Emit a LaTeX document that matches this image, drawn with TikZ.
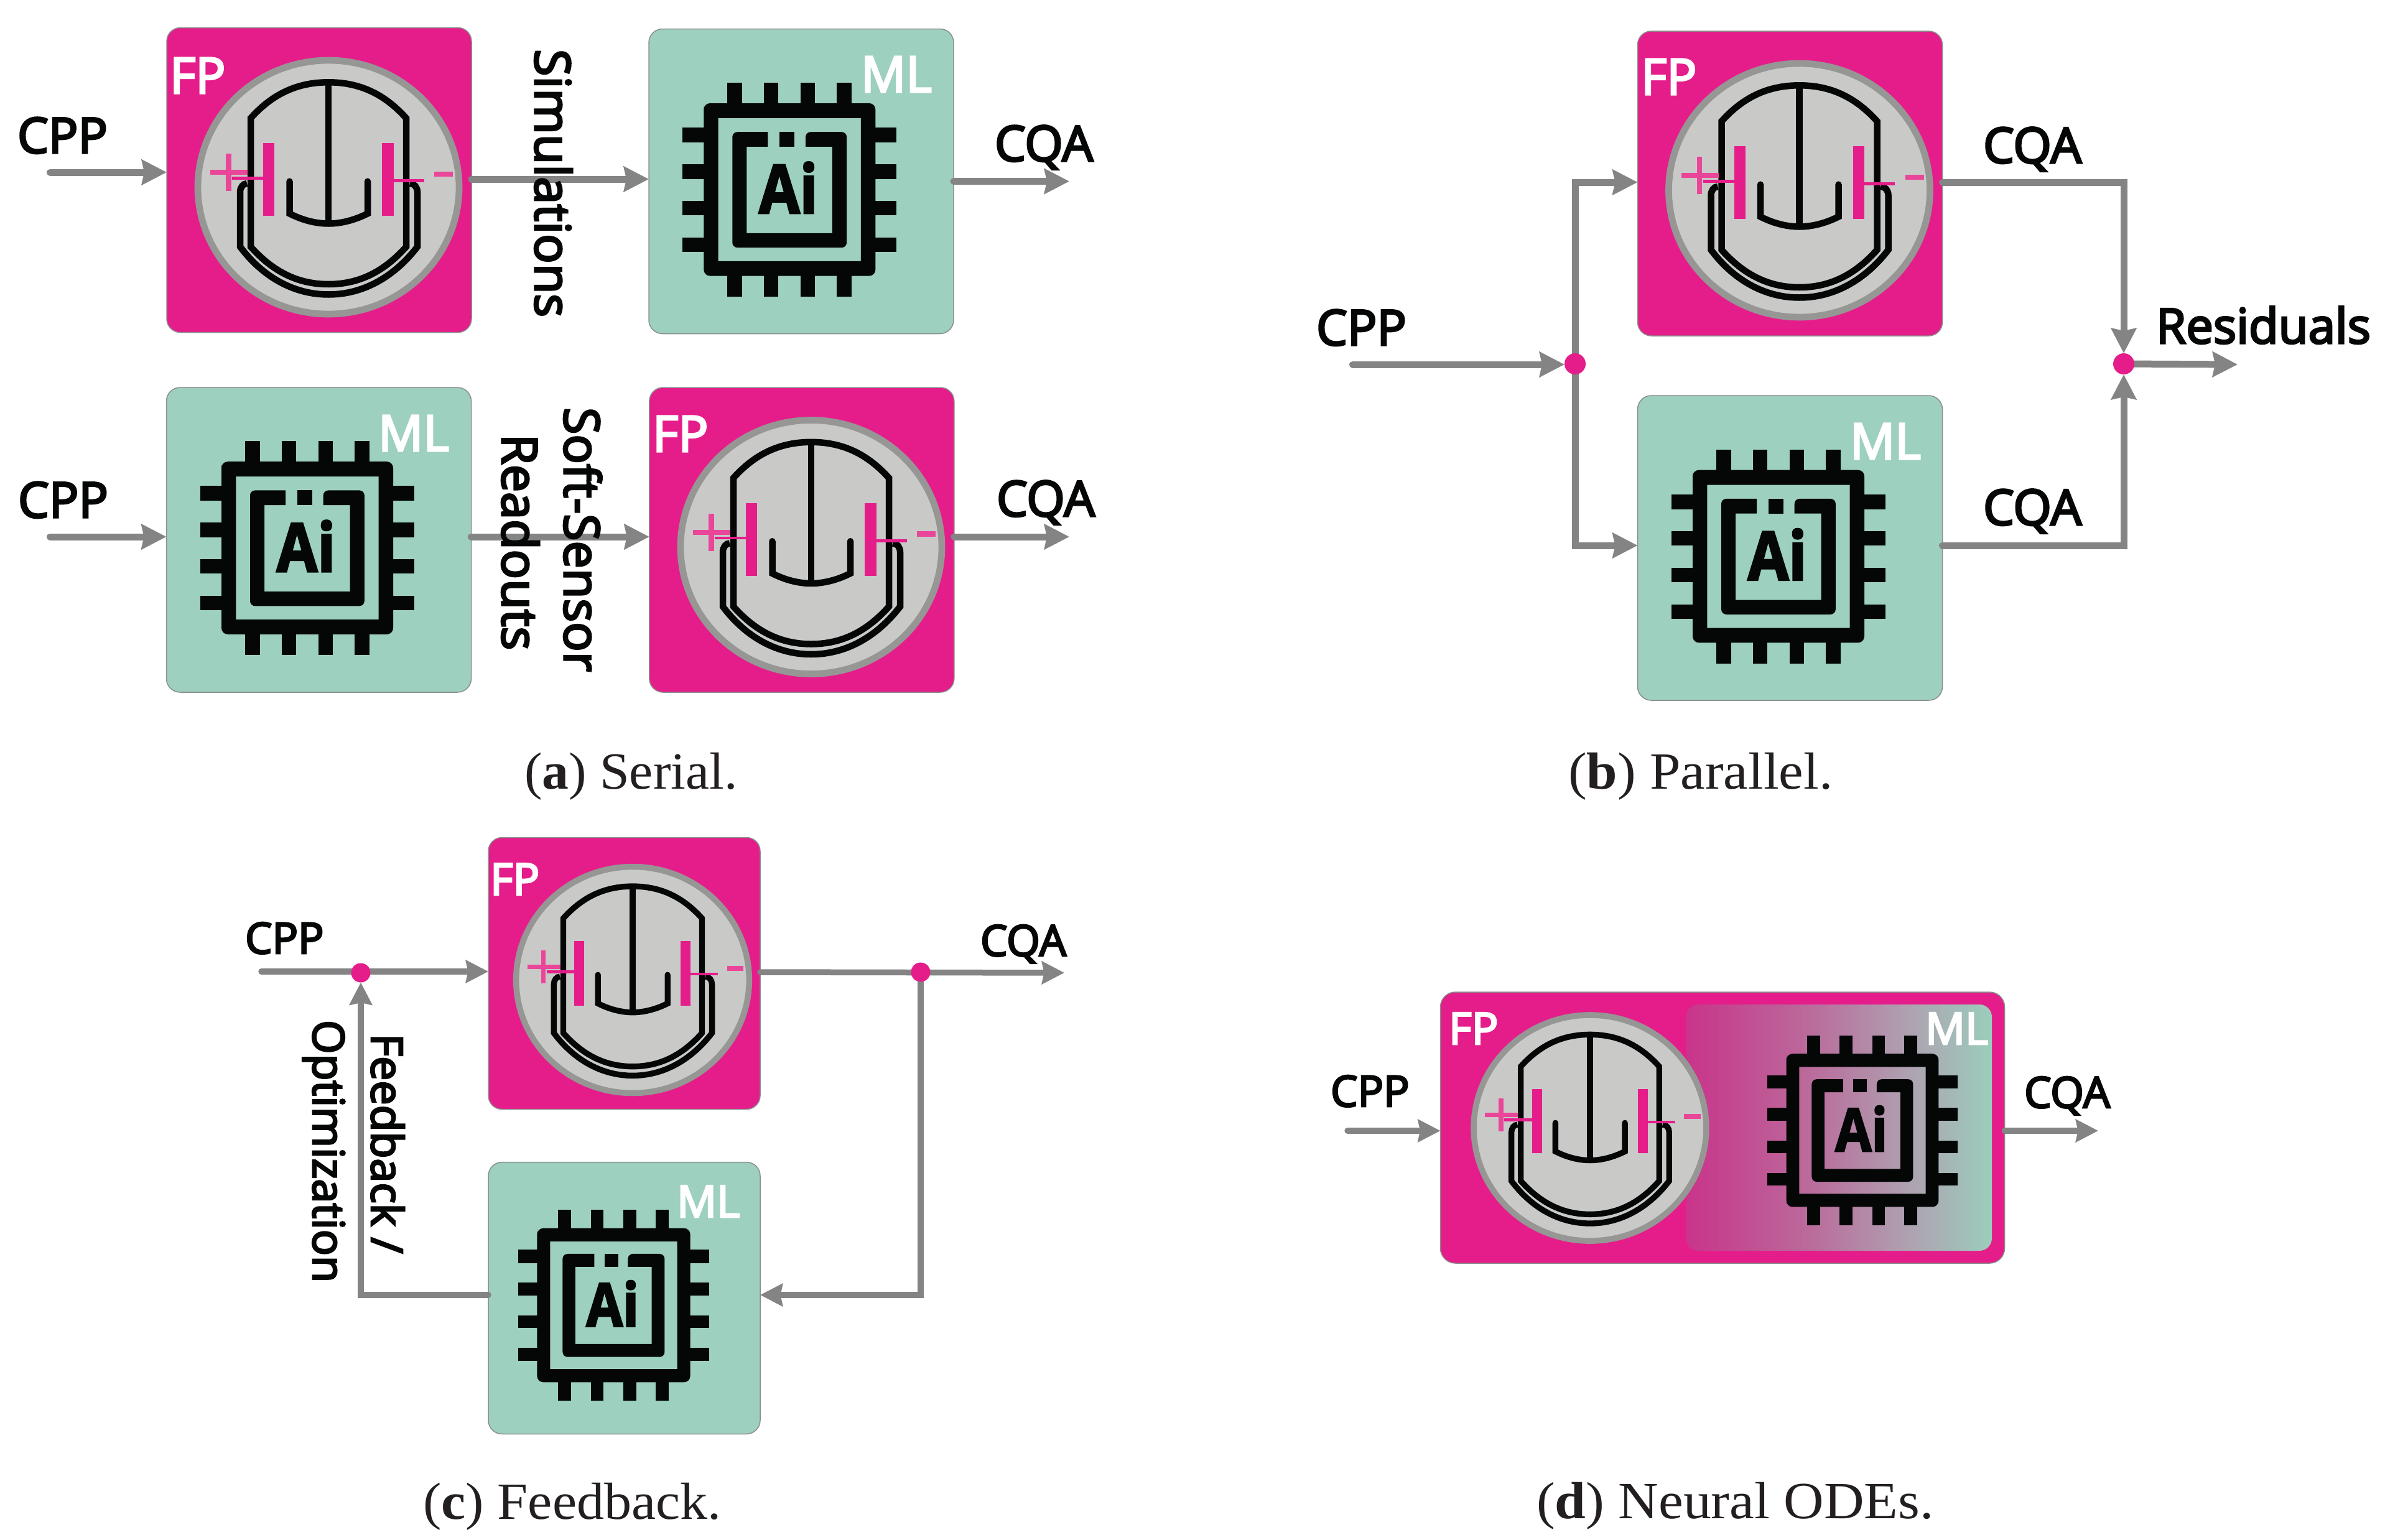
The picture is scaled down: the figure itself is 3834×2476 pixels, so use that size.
\documentclass[tikz,border=0pt]{standalone}
\usepackage{fontspec}
\usetikzlibrary{arrows.meta}
\setmainfont{Liberation Serif}
\newfontfamily\labfont[FakeBold=4]{Open Sans}
\newfontfamily\aifont[UprightFont=* Bold,FakeBold=3]{Open Sans}
\definecolor{fppink}{HTML}{E51D8A}
\definecolor{signpink}{HTML}{EA4699}
\definecolor{mlteal}{HTML}{9DD0BE}
\definecolor{edgegray}{HTML}{8A8F8C}
\definecolor{linegray}{HTML}{848484}
\definecolor{discfill}{HTML}{C9C9C8}
\definecolor{discring}{HTML}{969695}
\definecolor{inkblack}{HTML}{040706}
\definecolor{capink}{HTML}{231F20}
\definecolor{gA}{HTML}{C9348A}
\definecolor{gB}{HTML}{BA6A9B}
\definecolor{gC}{HTML}{AFA0B0}
\definecolor{gD}{HTML}{A2BDB8}
\definecolor{gE}{HTML}{9CCEBB}
\pgfdeclarehorizontalshading{odeshade}{100bp}{color(0bp)=(gA); color(25bp)=(gA); color(45bp)=(gB); color(61bp)=(gC); color(70bp)=(gD); color(75bp)=(gE); color(100bp)=(gE)}
\pgfdeclarelayer{fg}
\pgfsetlayers{main,fg}
\tikzset{
  fpbox/.style={draw=edgegray,line width=1.5pt,fill=fppink,rounded corners=22pt,minimum width=#1,minimum height=#1,inner sep=0pt,outer sep=0pt},
  mlbox/.style={draw=edgegray,line width=1.5pt,fill=mlteal,rounded corners=22pt,minimum width=#1,minimum height=#1,inner sep=0pt,outer sep=0pt},
  lab/.style={anchor=base west,inner sep=0pt,outer sep=0pt,text=inkblack,font={\fontsize{#1pt}{#1pt}\labfont}},
  boxlab/.style={anchor=base west,inner sep=0pt,outer sep=0pt,text=white,font={\fontsize{#1pt}{#1pt}\labfont}},
  vlab/.style={lab=#1,rotate=-90},
  capt/.style={anchor=base west,inner sep=0pt,outer sep=0pt,text=capink,font={\fontsize{84pt}{84pt}\selectfont}},
  dot/.style={circle,fill=fppink,draw=none,inner sep=0pt,outer sep=0pt,minimum size=#1},
  conn/.style={draw=linegray,line width=11pt,line cap=round,line join=miter},
  arr/.style={conn,-{Stealth[length=40pt,width=40pt,inset=4pt]}},
  conns/.style={draw=linegray,line width=9.5pt,line cap=round,line join=miter},
  arrs/.style={conns,-{Stealth[length=36pt,width=36pt,inset=3.5pt]}},
}
% reactor icon: centre x, centre y, scale
\newcommand{\fpicon}[3]{%
\begin{scope}[shift={(#1,#2)},scale=#3]
  \pgfmathsetmacro\sw{10.5*#3}
  \pgfmathsetmacro\sr{10.7*#3}
  \pgfmathsetmacro\swire{4.8*#3}
  \pgfmathsetmacro\ssign{8.4*#3}
  \filldraw[fill=discfill,draw=discring,line width=\sr pt] (0,0) ellipse [x radius=210,y radius=204];
  \draw[inkblack,line width=\sw pt,line join=miter] (-125,-111) .. controls (-90,-150) and (-50,-168.7) .. (0,-168.7) .. controls (50,-168.7) and (90,-150) .. (125,-111) -- (125,95.7) .. controls (90,135) and (50,156) .. (0,156) .. controls (-50,156) and (-90,135) .. (-125,95.7) -- cycle;
  \draw[inkblack,line width=\sw pt,line join=miter] (-131,-6) .. controls (-137,-6) and (-142,0) .. (-142,8) -- (-142,95.7) .. controls (-105,145) and (-55,172.5) .. (0,172.5) .. controls (55,172.5) and (105,145) .. (143,95.7) -- (143,8) .. controls (143,0) and (138,-6) .. (131,-6);
  \draw[inkblack,line width=\sw pt] (0,-168.7) -- (0,58.5);
  \draw[inkblack,line width=\sw pt,line cap=round,line join=miter] (-62.5,-9.3) -- (-62.5,42.4) .. controls (-42,53) and (-20,58.5) .. (0,58.5) .. controls (20,58.5) and (42,53) .. (63,42.4) -- (63,-9.3);
  \fill[fppink] (-105,-70.6) rectangle (-87,46);
  \fill[fppink] (86.4,-70.6) rectangle (104.5,46);
  \draw[fppink,line width=\swire pt] (-155,-14.5) -- (-105,-14.5);
  \draw[fppink,line width=\swire pt] (104,-10.3) -- (153.6,-10.3);
  \draw[signpink,line width=\ssign pt] (-190,-23.8) -- (-130,-23.8);
  \draw[signpink,line width=\ssign pt] (-160.7,-53.7) -- (-160.7,6.2);
  \draw[signpink,line width=\ssign pt] (170,-21) -- (200,-21);
\end{scope}}
% chip icon: centre x, centre y, scale
\newcommand{\chipicon}[3]{%
\begin{scope}[shift={(#1,#2)},scale=#3]
  \pgfmathsetmacro\aisz{108*#3}
  \fill[inkblack,even odd rule,rounded corners=0pt]
     (-138,-126) [rounded corners=10pt] -- (-138,-138.8) -- (138,-138.8) -- (138,138.8) -- (-138,138.8) -- cycle
     [sharp corners] (-114.6,-115) rectangle (114.6,115);
  \foreach \pa/\pb in {-100.4/-76.4,-41.4/-18.2,17.9/40.7,75.7/99.6}{
    \fill[inkblack] (\pa,-171.8) rectangle (\pb,-138);
    \fill[inkblack] (\pa,138) rectangle (\pb,172.2);
  }
  \foreach \pa/\pb in {-100/-75.8,-40.6/-17.2,18.3/41.3,77/100}{
    \fill[inkblack] (-172,\pa) rectangle (-137,\pb);
    \fill[inkblack] (137,\pa) rectangle (172,\pb);
  }
  \fill[inkblack,rounded corners=8pt] (-35,-92.6) -- (-92,-92.6) -- (-92,93.3) -- (91.8,93.3) -- (91.8,-92.6) -- (25.7,-92.6)
     [sharp corners] -- (25.7,-69) -- (68.6,-69) -- (68.6,70) -- (-69,70) -- (-69,-69) -- (-35,-69) -- cycle;
  \fill[inkblack] (-16.4,-92.6) rectangle (7.9,-69);
  \node[anchor=base,inner sep=0pt,text=inkblack] at (-2,37.9) {\scalebox{0.88}[1]{\fontsize{\aisz pt}{\aisz pt}\aifont Ai}};
\end{scope}}
\begin{document}
\begin{tikzpicture}[x=1pt,y=-1pt]
\useasboundingbox (0,-1) rectangle (3834,2475);
% ---------- boxes
\node[fpbox=490pt] (fpa) at (513,288.5) {};
\node[mlbox=490pt] (mla) at (1288,290.5) {};
\node[mlbox=490pt] (mlaa) at (512.5,867) {};
\node[fpbox=490pt] (fpaa) at (1288.8,867) {};
\node[fpbox=490pt] (fpb) at (2877.5,294) {};
\node[mlbox=490pt] (mlb) at (2877.5,880) {};
\node[fpbox=437pt] (fpc) at (1003.5,1564) {};
\node[mlbox=437pt] (mlc) at (1003.5,2086) {};
\node[draw=edgegray,line width=1.5pt,fill=fppink,rounded corners=24pt,minimum width=907pt,minimum height=436pt,inner sep=0pt,outer sep=0pt] (oded) at (2769,1812) {};
\path[shading=odeshade,rounded corners=20pt] (2710,1614) rectangle (3202,2010);
% ---------- icons
\fpicon{528}{300}{1}
\chipicon{1269.3}{303.8}{1}
\chipicon{494}{880}{1}
\fpicon{1304}{878.5}{1}
\fpicon{2892.5}{305}{1}
\chipicon{2859}{893.5}{1}
\fpicon{1017}{1574.5}{0.892}
\chipicon{986.5}{2097.5}{0.892}
\fpicon{2556}{1812.5}{0.89}
\chipicon{2994}{1816.3}{0.887}
% ---------- box labels
\node[boxlab=80] (t1) at (273,149) {FP};
\node[boxlab=80] (t2) at (1384,147) {ML};
\node[boxlab=80] (t3) at (608,724) {ML};
\node[boxlab=80] (t4) at (1049,725) {FP};
\node[boxlab=80] (t5) at (2638,151) {FP};
\node[boxlab=80] (t6) at (2974,737) {ML};
\node[boxlab=71] (t7) at (788,1438) {FP};
\node[boxlab=71] (t8) at (1088,1956) {ML};
\node[boxlab=71] (t9) at (2329,1678) {FP};
\node[boxlab=71] (t10) at (3095,1678) {ML};
% ---------- junction dots
\begin{pgfonlayer}{fg}
\node[dot=34pt] (db) at (2532,584) {};
\node[dot=34pt] (dbb) at (3414,584) {};
\node[dot=31pt] (dc) at (580,1563) {};
\node[dot=31pt] (dcc) at (1480,1562) {};
\end{pgfonlayer}
% ---------- free ends
\coordinate (sa) at (80.5,276);
\coordinate (saa) at (80.5,862);
\coordinate (ea) at (1719,290.5);
\coordinate (eaa) at (1719,862);
\coordinate (ya) at (0,287);
\coordinate (yaa) at (0,862);
\coordinate (sb) at (2174.5,585);
\coordinate (eb) at (3597,585);
\coordinate (yb) at (0,292);
\coordinate (ybb) at (0,876);
\coordinate (sc) at (420,1561);
\coordinate (ec) at (1711,1563);
\coordinate (yc) at (0,2081);
\coordinate (sd) at (2166,1817);
\coordinate (ed) at (3373,1817);
% ---------- connectors
\draw[arr] (sa) -- (sa -| fpa.west);
\draw[arr] (ya -| fpa.east) -- (ya -| mla.west);
\draw[arr] (ea -| mla.east) -- (ea);
\draw[arr] (saa) -- (saa -| mlaa.west);
\draw[arr] (yaa -| mlaa.east) -- (yaa -| fpaa.west);
\draw[arr] (eaa -| fpaa.east) -- (eaa);
\draw[arr] (sb) -- (sb -| db.west);
\draw[arr] (db.center) |- (yb -| fpb.west);
\draw[arr] (db.center) |- (ybb -| mlb.west);
\draw[arr] (yb -| fpb.east) -| (dbb.north);
\draw[arr] (ybb -| mlb.east) -| (dbb.south);
\draw[arr] (dbb.center) -- (eb);
\draw[arrs] (sc) -- (sc -| fpc.west);
\draw[arrs] (dcc -| fpc.east) -- (ec);
\draw[arrs] (dcc.center) |- (yc -| mlc.east);
\draw[arrs] (yc -| mlc.west) -| (dc.south);
\draw[arrs] (sd) -- (sd -| oded.west);
\draw[arrs] (sd -| oded.east) -- (ed);
% ---------- outer labels
\node[lab=79] (l1) at (28,245) {CPP};
\node[lab=79] (l2) at (29,831) {CPP};
\node[lab=79] (l3) at (1599,258) {CQA};
\node[lab=79] (l4) at (1602,829) {CQA};
\node[lab=79] (l5) at (2116,554) {CPP};
\node[lab=79] (l6) at (3188,261) {CQA};
\node[lab=79] (l7) at (3188,843) {CQA};
\node[lab=78] (l8) at (3466,551) {Residuals};
\node[lab=69] (l9) at (394,1532) {CPP};
\node[lab=69] (l10) at (1576,1536) {CQA};
\node[lab=69] (l11) at (2139,1778) {CPP};
\node[lab=69] (l12) at (3254,1780) {CQA};
\node[vlab=79] (l13) at (860,78) {Simulations};
\node[vlab=79] (l14) at (907,654) {Soft-Sensor};
\node[vlab=79] (l15) at (807,697) {Readouts};
\node[vlab=70] (l16) at (597,1661) {Feedback /};
\node[vlab=70] (l17) at (503,1639) {Optimization};
% ---------- captions
\node[capt] (c1) at (843,1267) {\scalebox{1.02}[1]{(\textbf{a}) Serial.}};
\node[capt] (c2) at (2521,1267) {\scalebox{1.06}[1]{(\textbf{b}) Parallel.}};
\node[capt] (c3) at (680,2441) {\scalebox{1.05}[1]{(\textbf{c}) Feedback.}};
\node[capt] (c4) at (2470,2440) {\scalebox{1.065}[1]{(\textbf{d}) Neural ODEs.}};
\end{tikzpicture}
\end{document}
